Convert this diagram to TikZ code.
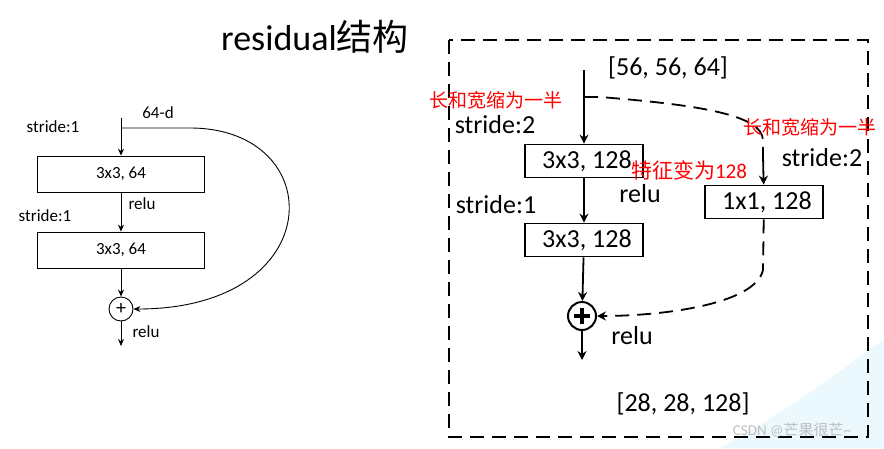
\documentclass[tikz,border=0pt]{standalone}
\usepackage{fontspec}
\setmainfont{Carlito}
\newfontfamily\cjk{Noto Sans CJK SC}
\usetikzlibrary{arrows.meta}
\begin{document}
\begin{tikzpicture}[x=1pt,y=-1pt,
  lbox/.style={draw,line width=0.7pt,minimum width=167pt,minimum height=36pt,font=\fontsize{17}{19}\selectfont},
  rbox/.style={draw,line width=1.8pt,minimum width=118pt,minimum height=33pt,font=\fontsize{26}{28}\selectfont},
  lt/.style={font=\fontsize{17}{19}\selectfont},
  rt/.style={font=\fontsize{26}{28}\selectfont},
  red/.style={text=red,font=\cjk\fontsize{19}{21}\selectfont},
  la/.style={-{Stealth[length=7pt,width=6pt]},line width=0.9pt},
  ra/.style={-{Stealth[length=9pt,width=9pt]},line width=1.8pt},
  dsh/.style={line width=1.8pt,dash pattern=on 14pt off 8pt}]
\useasboundingbox (0,0) rectangle (884,448);
\fill[cyan!8] (884,340) -- (884,448) -- (720,448) .. controls (790,410) and (840,370) .. (884,340);
% title
\node[font=\fontsize{36}{40}\selectfont] (title) at (315,37) {residual{\cjk 结构}};
% left
\coordinate (ltop) at (121,118);
\coordinate (lsplit) at (121,128);
\node[lbox] (b1) at (121,174) {3x3, 64};
\node[lbox] (b2) at (121,250) {3x3, 64};
\node[draw,circle,line width=0.9pt,minimum size=24pt,inner sep=0pt,font=\fontsize{20}{20}\selectfont] (p1) at (121,309) {+};
\coordinate (lend) at (121,346);
\draw[la] (ltop) -- (b1);
\draw[la] (b1) -- (b2);
\draw[la] (b2) -- (p1);
\draw[la] (p1) -- (lend);
\draw[la] (lsplit) -- (190,128) .. controls (330,128) and (330,309) .. (p1.east);
\node[lt] (d64) at (158,113) {64-d};
\node[lt] (s1) at (53,127) {stride:1};
\node[lt] (s2) at (45,216) {stride:1};
\node[lt] (r1) at (142,204) {relu};
\node[lt] (r2) at (146,332) {relu};
% right
\draw[dsh] (449,40) rectangle (868,437);
\coordinate (rtop) at (584,70);
\coordinate (rsplit) at (584,97);
\node[rbox] (c1) at (584,161) {\ 3x3, 128};
\node[rbox] (c2) at (584,240) {\ 3x3, 128};
\node[rbox] (c3) at (764,202) {\ 1x1, 128};
\node[draw,circle,line width=2pt,minimum size=28pt,inner sep=0pt] (p2) at (582,316) {};
\draw[line width=4pt] (574,316) -- (590,316) (582,308) -- (582,324);
\coordinate (rend) at (582,360);
\draw[ra] (rtop) -- (c1);
\draw[ra] (c1) -- (c2);
\draw[ra] (c2) -- (p2);
\draw[ra] (p2) -- (rend);
\draw[dsh] (rsplit) -- (600,97) .. controls (700,105) and (762,115) .. (763,140) -- (763,160);
\draw[ra] (763,155) -- (c3);
\draw[dsh,-{Stealth[length=9pt,width=9pt]}] (c3) -- (763,270) .. controls (755,305) and (660,316) .. (p2.east);
\node[rt] (in) at (668,68) {[56, 56, 64]};
\node[red] (h1) at (496,100) {长和宽缩为一半};
\node[rt] (s3) at (495,125) {stride:2};
\node[red] (h2) at (810,127) {长和宽缩为一半};
\node[rt] (s4) at (822,158) {stride:2};
\node[red,font=\fontsize{21}{23}\selectfont] (f) at (689,170) {{\cjk 特征变为}128};
\node[rt] (r3) at (640,194) {relu};
\node[rt] (s5) at (496,205) {stride:1};
\node[rt] (r4) at (632,336) {relu};
\node[rt] (out) at (683,404) {[28, 28, 128]};
\node[text=gray!50,font=\fontsize{15}{17}\selectfont] (wm) at (792,430) {CSDN @{\cjk 芒果很芒}\textasciitilde};
\end{tikzpicture}
\end{document}
